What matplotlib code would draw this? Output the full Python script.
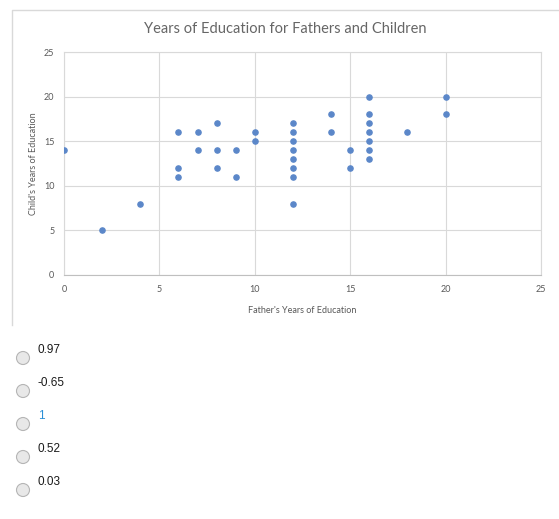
import matplotlib
matplotlib.use("Agg")
import matplotlib.pyplot as plt
from matplotlib.lines import Line2D
from matplotlib.patches import Circle

# data
father = [0, 2, 4, 6, 6, 6, 7, 7, 8, 8, 8, 9, 9, 10, 10,
          12, 12, 12, 12, 12, 12, 12, 12, 14, 14, 15, 15,
          16, 16, 16, 16, 16, 16, 16, 18, 20, 20]
child = [14, 5, 8, 16, 12, 11, 16, 14, 17, 14, 12, 14, 11, 16, 15,
         17, 16, 15, 14, 13, 12, 11, 8, 18, 16, 14, 12,
         20, 18, 17, 16, 15, 14, 13, 16, 20, 18]
ticks = [0, 5, 10, 15, 20, 25]
options = ["0.97", "-0.65", "1", "0.52", "0.03"]

W, H = 559, 519
fig = plt.figure(figsize=(W / 100, H / 100), dpi=100)

# chart area border (only left and top visible in the crop)
fig.add_artist(Line2D([12 / W, 12 / W, 1], [1 - 325 / H, 1 - 10 / H, 1 - 10 / H],
                      transform=fig.transFigure, color="#d9d9d9", lw=1))

ax = fig.add_axes([64 / W, 1 - 275 / H, (541 - 64) / W, (275 - 52) / H])
ax.scatter(father, child, s=14, color="#5b87c9", marker="o", zorder=3)
ax.set_xlim(0, 25)
ax.set_ylim(0, 25)
ax.set_xticks(ticks)
ax.set_yticks(ticks)
ax.grid(True, color="#d9d9d9", lw=0.8)
ax.set_axisbelow(True)
for s in ax.spines.values():
    s.set_color("#d9d9d9")
    s.set_linewidth(0.8)
ax.spines["bottom"].set_color("#bfbfbf")
ax.tick_params(length=0, labelsize=6.5, colors="#595959", pad=7)
ax.set_xlabel("Father's Years of Education", fontsize=6.5, color="#595959",
              family="Lato", labelpad=9)
ax.set_ylabel("Child's Years of Education", fontsize=6.5, color="#595959",
              family="Lato", labelpad=4)
for lab in ax.get_xticklabels() + ax.get_yticklabels():
    lab.set_family("Lato")
fig.text(285 / W, 1 - 29 / H, "Years of Education for Fathers and Children",
         ha="center", va="center", fontsize=10.5, color="#666666",
         family="Lato")

# radio button answers below the chart
ov = fig.add_axes([0, 0, 1, 1], facecolor="none")
ov.set_xlim(0, W)
ov.set_ylim(H, 0)
ov.axis("off")
for i, opt in enumerate(options):
    yc = 358 + i * 33
    ov.add_patch(Circle((23, yc), 6.5, facecolor="#e8e8e8",
                        edgecolor="#b5b5b5", lw=0.8))
    ov.text(38, yc - 8, opt, fontsize=8.5, family="Liberation Sans",
            color="#2b8fd6" if opt == "1" else "#1a1a1a", va="center")

fig.savefig("out.png", dpi=100)
